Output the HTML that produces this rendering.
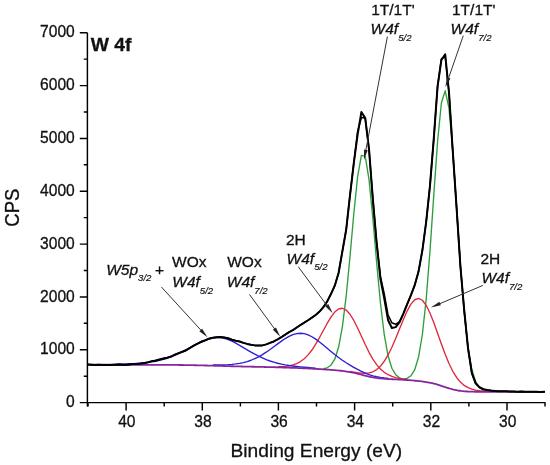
<!DOCTYPE html>
<html><head><meta charset="utf-8"><style>
html,body{margin:0;padding:0;background:#fff;}
svg{display:block;}
text{font-family:"Liberation Sans",Arial,sans-serif;fill:#111;stroke:#111;stroke-width:0.3px;}
</style></head><body>
<svg width="550" height="465" viewBox="0 0 550 465">
<rect width="550" height="465" fill="#fff"/>
<g id="curves">
<path d="M323.33,368.71 L327.14,367.80 L330.95,365.20 L334.76,359.20 L338.57,347.32 L342.37,326.86 L346.18,296.20 L349.99,256.66 L353.80,213.76 L357.61,176.71 L361.41,155.45 L365.22,156.44 L369.03,179.61 L372.84,218.34 L376.65,262.62 L380.45,303.24 L384.26,334.71 L388.07,355.81 L391.88,368.22 L395.69,374.71 L399.49,377.79 L403.30,379.18" stroke="#2f9e3a" stroke-width="1.35" fill="none" stroke-linejoin="round"/>
<path d="M403.30,379.22 L407.11,378.35 L410.92,375.80 L414.73,369.71 L418.53,357.20 L422.34,334.75 L426.15,299.49 L429.96,251.39 L433.77,195.34 L437.57,141.54 L441.38,103.02 L445.19,90.69 L449.00,108.44 L452.81,151.30 L456.61,207.79 L460.42,264.89 L464.23,312.92 L468.04,347.62 L471.85,369.50 L475.65,381.65 L479.46,387.64 L483.27,390.26 L487.08,391.28" stroke="#2f9e3a" stroke-width="1.35" fill="none" stroke-linejoin="round"/>
<path d="M277.64,366.74 L281.45,366.60 L285.25,366.32 L289.06,365.80 L292.87,364.93 L296.68,363.57 L300.49,361.54 L304.29,358.68 L308.10,354.86 L311.91,350.01 L315.72,344.17 L319.53,337.54 L323.33,330.46 L327.14,323.45 L330.95,317.11 L334.76,312.09 L338.57,309.00 L342.37,308.26 L346.18,310.06 L349.99,314.25 L353.80,320.43 L357.61,328.00 L361.41,336.27 L365.22,344.56 L369.03,352.30 L372.84,359.07 L376.65,364.67 L380.45,369.06 L384.26,372.34 L388.07,374.71 L391.88,376.38 L395.69,377.54 L399.49,378.37 L403.30,378.98 L407.11,379.48" stroke="#e0283c" stroke-width="1.35" fill="none" stroke-linejoin="round"/>
<path d="M349.99,371.49 L353.80,372.07 L357.61,372.65 L361.41,373.12 L365.22,373.29 L369.03,372.93 L372.84,371.78 L376.65,369.59 L380.45,366.14 L384.26,361.29 L388.07,354.97 L391.88,347.28 L395.69,338.49 L399.49,329.07 L403.30,319.66 L407.11,311.08 L410.92,304.18 L414.73,299.75 L418.53,298.36 L422.34,300.26 L426.15,305.29 L429.96,312.96 L433.77,322.53 L437.57,333.16 L441.38,344.00 L445.19,354.32 L449.00,363.53 L452.81,371.29 L456.61,377.46 L460.42,382.11 L464.23,385.43 L468.04,387.69 L471.85,389.17 L475.65,390.10 L479.46,390.67 L483.27,391.01 L487.08,391.22" stroke="#e0283c" stroke-width="1.35" fill="none" stroke-linejoin="round"/>
<path d="M117.70,364.04 L121.51,363.97 L125.32,363.88 L129.13,363.76 L132.93,363.61 L136.74,363.42 L140.55,363.16 L144.36,362.84 L148.17,362.42 L151.97,361.88 L155.78,361.22 L159.59,360.40 L163.40,359.42 L167.21,358.24 L171.01,356.87 L174.82,355.31 L178.63,353.56 L182.44,351.65 L186.25,349.61 L190.05,347.50 L193.86,345.38 L197.67,343.32 L201.48,341.43 L205.29,339.79 L209.09,338.51 L212.90,337.67 L216.71,337.35 L220.52,337.57 L224.33,338.33 L228.13,339.57 L231.94,341.21 L235.75,343.16 L239.56,345.31 L243.37,347.57 L247.17,349.85 L250.98,352.08 L254.79,354.21 L258.60,356.19 L262.41,357.98 L266.21,359.59 L270.02,361.00 L273.83,362.21 L277.64,363.25 L281.45,364.13 L285.25,364.87 L289.06,365.50 L292.87,366.03 L296.68,366.48 L300.49,366.88 L304.29,367.22 L308.10,367.54 L311.91,367.84 L315.72,368.13" stroke="#2a1ed8" stroke-width="1.35" fill="none" stroke-linejoin="round"/>
<path d="M212.90,364.99 L216.71,364.99 L220.52,364.94 L224.33,364.84 L228.13,364.65 L231.94,364.37 L235.75,363.94 L239.56,363.36 L243.37,362.57 L247.17,361.54 L250.98,360.25 L254.79,358.67 L258.60,356.80 L262.41,354.63 L266.21,352.19 L270.02,349.54 L273.83,346.74 L277.64,343.90 L281.45,341.12 L285.25,338.56 L289.06,336.36 L292.87,334.66 L296.68,333.60 L300.49,333.26 L304.29,333.70 L308.10,334.88 L311.91,336.74 L315.72,339.14 L319.53,341.95 L323.33,345.03 L327.14,348.23 L330.95,351.43 L334.76,354.53 L338.57,357.47 L342.37,360.22 L346.18,362.77 L349.99,365.13 L353.80,367.35 L357.61,369.43 L361.41,371.36 L365.22,373.09 L369.03,374.59 L372.84,375.81 L376.65,376.74 L380.45,377.43 L384.26,377.92 L388.07,378.27" stroke="#2a1ed8" stroke-width="1.35" fill="none" stroke-linejoin="round"/>
<path d="M88.00,364.71 L89.52,364.71 L91.05,364.72 L92.57,364.72 L94.09,364.72 L95.62,364.72 L97.14,364.72 L98.66,364.72 L100.19,364.72 L101.71,364.72 L103.23,364.72 L104.76,364.72 L106.28,364.73 L107.80,364.73 L109.32,364.73 L110.85,364.73 L112.37,364.73 L113.89,364.73 L115.42,364.73 L116.94,364.73 L118.46,364.74 L119.99,364.74 L121.51,364.74 L123.03,364.74 L124.56,364.74 L126.08,364.74 L127.60,364.74 L129.13,364.75 L130.65,364.75 L132.17,364.75 L133.70,364.75 L135.22,364.75 L136.74,364.76 L138.27,364.76 L139.79,364.76 L141.31,364.76 L142.84,364.77 L144.36,364.77 L145.88,364.77 L147.40,364.78 L148.93,364.78 L150.45,364.79 L151.97,364.79 L153.50,364.80 L155.02,364.80 L156.54,364.81 L158.07,364.81 L159.59,364.82 L161.11,364.83 L162.64,364.84 L164.16,364.85 L165.68,364.86 L167.21,364.87 L168.73,364.88 L170.25,364.89 L171.78,364.90 L173.30,364.92 L174.82,364.93 L176.35,364.95 L177.87,364.96 L179.39,364.98 L180.92,365.00 L182.44,365.02 L183.96,365.04 L185.48,365.06 L187.01,365.09 L188.53,365.11 L190.05,365.14 L191.58,365.17 L193.10,365.20 L194.62,365.23 L196.15,365.26 L197.67,365.30 L199.19,365.33 L200.72,365.37 L202.24,365.41 L203.76,365.44 L205.29,365.48 L206.81,365.52 L208.33,365.57 L209.86,365.61 L211.38,365.65 L212.90,365.70 L214.43,365.74 L215.95,365.78 L217.47,365.83 L219.00,365.87 L220.52,365.92 L222.04,365.96 L223.56,366.01 L225.09,366.05 L226.61,366.10 L228.13,366.14 L229.66,366.18 L231.18,366.23 L232.70,366.27 L234.23,366.31 L235.75,366.35 L237.27,366.39 L238.80,366.42 L240.32,366.46 L241.84,366.50 L243.37,366.53 L244.89,366.57 L246.41,366.60 L247.94,366.64 L249.46,366.67 L250.98,366.70 L252.51,366.73 L254.03,366.77 L255.55,366.80 L257.08,366.83 L258.60,366.86 L260.12,366.90 L261.64,366.93 L263.17,366.96 L264.69,366.99 L266.21,367.03 L267.74,367.06 L269.26,367.10 L270.78,367.14 L272.31,367.17 L273.83,367.21 L275.35,367.25 L276.88,367.29 L278.40,367.34 L279.92,367.38 L281.45,367.43 L282.97,367.48 L284.49,367.52 L286.02,367.57 L287.54,367.63 L289.06,367.68 L290.59,367.73 L292.11,367.79 L293.63,367.85 L295.16,367.91 L296.68,367.97 L298.20,368.03 L299.72,368.10 L301.25,368.16 L302.77,368.23 L304.29,368.30 L305.82,368.37 L307.34,368.44 L308.86,368.51 L310.39,368.59 L311.91,368.67 L313.43,368.74 L314.96,368.83 L316.48,368.91 L318.00,369.00 L319.53,369.09 L321.05,369.18 L322.57,369.28 L324.10,369.37 L325.62,369.48 L327.14,369.58 L328.67,369.69 L330.19,369.80 L331.71,369.92 L333.24,370.04 L334.76,370.17 L336.28,370.30 L337.80,370.44 L339.33,370.59 L340.85,370.76 L342.37,370.93 L343.90,371.12 L345.42,371.32 L346.94,371.54 L348.47,371.79 L349.99,372.05 L351.51,372.34 L353.04,372.65 L354.56,372.98 L356.08,373.34 L357.61,373.71 L359.13,374.09 L360.65,374.49 L362.18,374.89 L363.70,375.29 L365.22,375.68 L366.75,376.07 L368.27,376.43 L369.79,376.78 L371.32,377.10 L372.84,377.40 L374.36,377.67 L375.88,377.91 L377.41,378.12 L378.93,378.30 L380.45,378.46 L381.98,378.60 L383.50,378.72 L385.02,378.83 L386.55,378.92 L388.07,379.01 L389.59,379.08 L391.12,379.16 L392.64,379.23 L394.16,379.30 L395.69,379.37 L397.21,379.45 L398.73,379.52 L400.26,379.61 L401.78,379.70 L403.30,379.79 L404.83,379.89 L406.35,379.99 L407.87,380.10 L409.40,380.22 L410.92,380.34 L412.44,380.47 L413.96,380.60 L415.49,380.74 L417.01,380.89 L418.53,381.05 L420.06,381.22 L421.58,381.40 L423.10,381.60 L424.63,381.81 L426.15,382.04 L427.67,382.30 L429.20,382.58 L430.72,382.89 L432.24,383.23 L433.77,383.59 L435.29,383.99 L436.81,384.41 L438.34,384.86 L439.86,385.33 L441.38,385.82 L442.91,386.32 L444.43,386.83 L445.95,387.33 L447.48,387.82 L449.00,388.30 L450.52,388.75 L452.04,389.18 L453.57,389.57 L455.09,389.92 L456.61,390.24 L458.14,390.52 L459.66,390.76 L461.18,390.97 L462.71,391.14 L464.23,391.28 L465.75,391.40 L467.28,391.49 L468.80,391.57 L470.32,391.62 L471.85,391.67 L473.37,391.70 L474.89,391.73 L476.42,391.74 L477.94,391.76 L479.46,391.77 L480.99,391.78 L482.51,391.78 L484.03,391.79 L485.56,391.79 L487.08,391.79 L488.60,391.79 L490.12,391.79 L491.65,391.80 L493.17,391.80 L494.69,391.80 L496.22,391.80 L497.74,391.80 L499.26,391.80 L500.79,391.80 L502.31,391.80 L503.83,391.80 L505.36,391.80 L506.88,391.81 L508.40,391.81 L509.93,391.81 L511.45,391.81 L512.97,391.81 L514.50,391.81 L516.02,391.81 L517.54,391.81 L519.07,391.81 L520.59,391.81 L522.11,391.81 L523.64,391.81 L525.16,391.81 L526.68,391.81 L528.20,391.81 L529.73,391.82 L531.25,391.82 L532.77,391.82 L534.30,391.82 L535.82,391.82 L537.34,391.82 L538.87,391.82 L540.39,391.82 L541.91,391.82 L543.44,391.82 L544.96,391.82" stroke="#85269c" stroke-width="1.8" fill="none"/>
<path d="M88.00,364.61 L91.05,364.69 L94.85,364.88 L98.66,364.77 L102.47,364.96 L106.28,364.91 L110.09,364.89 L113.89,364.67 L117.70,364.54 L121.51,364.70 L125.32,365.03 L129.13,364.43 L132.93,364.08 L136.74,363.99 L140.55,363.55 L144.36,363.02 L148.17,362.28 L151.97,361.12 L155.78,360.52 L159.59,359.42 L163.40,358.56 L167.21,357.72 L171.01,356.55 L174.82,354.70 L178.63,353.12 L182.44,351.77 L186.25,350.23 L190.05,347.85 L193.86,345.67 L197.67,343.64 L201.48,341.77 L205.29,340.34 L209.09,338.69 L212.90,337.84 L216.71,337.17 L220.52,337.01 L224.33,337.54 L228.13,338.27 L231.94,339.72 L235.75,340.75 L239.56,341.49 L243.37,342.89 L247.17,343.90 L250.98,344.69 L254.79,345.38 L258.60,345.43 L262.41,345.38 L266.21,344.37 L270.02,342.82 L273.83,341.46 L277.64,339.34 L281.45,337.07 L285.25,334.71 L289.06,332.20 L292.87,330.19 L296.68,327.53 L300.49,324.99 L304.29,322.64 L308.10,320.23 L311.91,317.66 L315.72,314.94 L319.53,311.62 L323.33,307.22 L327.14,301.49 L330.95,294.05 L334.76,285.68 L338.57,273.00 L342.37,251.41 L346.18,229.74 L349.99,195.30 L353.80,163.12 L357.61,131.50 L361.41,117.50 L365.22,118.10 L369.03,149.33 L372.84,199.16 L376.65,242.87 L380.45,276.30 L384.26,294.00 L388.07,315.00 L391.88,322.80 L395.69,324.30 L399.49,321.60 L403.30,313.81 L407.11,304.27 L410.92,295.22 L414.73,285.11 L418.53,271.59 L422.34,250.52 L426.15,222.06 L429.96,185.88 L433.77,138.88 L437.57,86.33 L441.38,58.80 L445.19,56.50 L449.00,92.53 L452.81,151.69 L456.61,208.19 L460.42,266.48 L464.23,310.42 L468.04,348.30 L471.85,373.19 L475.65,383.39 L479.46,387.27 L483.27,389.12 L487.08,389.98 L490.89,390.52 L494.69,390.89 L498.50,391.25 L502.31,391.36 L506.12,391.37 L509.93,391.48 L513.73,391.50 L517.54,391.69 L521.35,391.57 L525.16,391.75 L528.97,391.83 L532.77,391.82 L536.58,391.68 L540.39,391.95 L544.20,391.72 L544.96,391.85" stroke="#000" stroke-width="1.5" fill="none" stroke-linejoin="round"/>
<path d="M88.00,364.61 L91.05,364.69 L94.85,364.88 L98.66,364.77 L102.47,364.96 L106.28,364.91 L110.09,364.89 L113.89,364.67 L117.70,364.54 L121.51,364.70 L125.32,365.03 L129.13,364.43 L132.93,364.08 L136.74,363.99 L140.55,363.55 L144.36,363.02 L148.17,362.28 L151.97,361.12 L155.78,360.52 L159.59,359.42 L163.40,358.56 L167.21,357.72 L171.01,356.55 L174.82,354.70 L178.63,353.12 L182.44,351.77 L186.25,350.23 L190.05,347.85 L193.86,345.67 L197.67,343.64 L201.48,341.77 L205.29,340.34 L209.09,338.69 L212.90,337.84 L216.71,337.17 L220.52,337.01 L224.33,337.54 L228.13,338.27 L231.94,339.72 L235.75,340.75 L239.56,341.49 L243.37,342.89 L247.17,343.90 L250.98,344.69 L254.79,345.38 L258.60,345.43 L262.41,345.38 L266.21,344.37 L270.02,342.82 L273.83,341.46 L277.64,339.34 L281.45,337.07 L285.25,334.71 L289.06,332.20 L292.87,330.19 L296.68,327.53 L300.49,324.99 L304.29,322.64 L308.10,320.23 L311.91,317.66 L315.72,314.94 L319.53,311.62 L323.33,307.22 L327.14,301.49 L330.95,294.05 L334.76,285.68 L338.57,273.00 L342.37,251.41 L346.18,229.74 L349.99,195.30 L353.80,163.12 L357.61,134.58 L361.41,112.00 L365.22,118.10 L369.03,149.33 L372.84,199.16 L376.65,242.87 L380.45,279.03 L384.26,298.45 L388.07,320.19 L391.88,328.06 L395.69,327.14 L399.49,322.36 L403.30,313.81 L407.11,304.27 L410.92,295.22 L414.73,285.11 L418.53,271.59 L422.34,250.52 L426.15,222.06 L429.96,185.88 L433.77,138.88 L437.57,86.33 L441.38,60.07 L445.19,54.31 L449.00,92.53 L452.81,151.69 L456.61,208.19 L460.42,266.48 L464.23,310.42 L468.04,348.30 L471.85,373.19 L475.65,383.39 L479.46,387.27 L483.27,389.12 L487.08,389.98 L490.89,390.52 L494.69,390.89 L498.50,391.25 L502.31,391.36 L506.12,391.37 L509.93,391.48 L513.73,391.50 L517.54,391.69 L521.35,391.57 L525.16,391.75 L528.97,391.83 L532.77,391.82 L536.58,391.68 L540.39,391.95 L544.20,391.72 L544.96,391.85" stroke="#000" stroke-width="2.0" fill="none" stroke-linejoin="round"/>
</g>
<g id="axes" stroke="#000" stroke-width="1.45" fill="none">
<path d="M87.4,32.7 V406.4"/>
<path d="M87.4,402.6 H545.5"/>
<!-- y major ticks -->
<path d="M79.8,32.7H87.4 M79.8,85.6H87.4 M79.8,138.4H87.4 M79.8,191.2H87.4 M79.8,244.1H87.4 M79.8,296.9H87.4 M79.8,349.8H87.4 M79.8,402.6H87.4"/>
<!-- y minor ticks -->
<path d="M83.8,59.1H87.4 M83.8,112.0H87.4 M83.8,164.8H87.4 M83.8,217.6H87.4 M83.8,270.5H87.4 M83.8,323.3H87.4 M83.8,376.2H87.4"/>
<!-- x major ticks -->
<path d="M126.1,402.6V410.4 M202.3,402.6V410.4 M278.4,402.6V410.4 M354.6,402.6V410.4 M430.8,402.6V410.4 M507.0,402.6V410.4"/>
<!-- x minor ticks -->
<path d="M88,402.6V406.4 M164.2,402.6V406.4 M240.4,402.6V406.4 M316.5,402.6V406.4 M392.7,402.6V406.4 M468.9,402.6V406.4 M545.0,402.6V406.4"/>
</g>
<text transform="translate(74.80,37.30) scale(1.0000,1)" font-size="15.6" text-anchor="end">7000</text>
<text transform="translate(74.80,90.20) scale(1.0000,1)" font-size="15.6" text-anchor="end">6000</text>
<text transform="translate(74.80,143.00) scale(1.0000,1)" font-size="15.6" text-anchor="end">5000</text>
<text transform="translate(74.80,195.80) scale(1.0000,1)" font-size="15.6" text-anchor="end">4000</text>
<text transform="translate(74.80,248.70) scale(1.0000,1)" font-size="15.6" text-anchor="end">3000</text>
<text transform="translate(74.80,301.50) scale(1.0000,1)" font-size="15.6" text-anchor="end">2000</text>
<text transform="translate(74.80,354.40) scale(1.0000,1)" font-size="15.6" text-anchor="end">1000</text>
<text transform="translate(74.80,407.20) scale(1.0000,1)" font-size="15.6" text-anchor="end">0</text>
<text transform="translate(126.80,426.80) scale(1.0000,1)" font-size="15.6" text-anchor="middle">40</text>
<text transform="translate(203.00,426.80) scale(1.0000,1)" font-size="15.6" text-anchor="middle">38</text>
<text transform="translate(279.10,426.80) scale(1.0000,1)" font-size="15.6" text-anchor="middle">36</text>
<text transform="translate(355.30,426.80) scale(1.0000,1)" font-size="15.6" text-anchor="middle">34</text>
<text transform="translate(431.50,426.80) scale(1.0000,1)" font-size="15.6" text-anchor="middle">32</text>
<text transform="translate(507.70,426.80) scale(1.0000,1)" font-size="15.6" text-anchor="middle">30</text>
<text transform="translate(316.35,456.50) scale(1.0000,1)" font-size="19.2" text-anchor="middle">Binding Energy (eV)</text>
<text transform="translate(18.60,207.70) scale(1.0550,1) rotate(-90)" font-size="18.5" text-anchor="middle">CPS</text>
<text transform="translate(90.80,50.70) scale(1.0420,1)" font-size="18.5" font-weight="bold">W 4f</text>
<text transform="translate(106.20,274.50) scale(1.0000,1)" font-size="15.5" font-style="italic">W5p<tspan font-size="9.6" dy="6.3" stroke-width="0.2">3/2</tspan></text>
<text transform="translate(155.00,274.50) scale(1.0000,1)" font-size="15.5">+</text>
<text transform="translate(172.00,267.30) scale(1.0000,1)" font-size="15.5">WOx</text>
<text transform="translate(172.30,287.20) scale(1.0000,1)" font-size="15.5" font-style="italic">W4f<tspan font-size="9.6" dy="6.3" stroke-width="0.2">5/2</tspan></text>
<text transform="translate(227.20,267.30) scale(1.0000,1)" font-size="15.5">WOx</text>
<text transform="translate(226.80,287.20) scale(1.0000,1)" font-size="15.5" font-style="italic">W4f<tspan font-size="9.6" dy="6.3" stroke-width="0.2">7/2</tspan></text>
<text transform="translate(286.00,244.60) scale(1.0000,1)" font-size="15.5">2H</text>
<text transform="translate(286.60,263.60) scale(1.0000,1)" font-size="15.5" font-style="italic">W4f<tspan font-size="9.6" dy="6.3" stroke-width="0.2">5/2</tspan></text>
<text transform="translate(480.50,264.10) scale(1.0000,1)" font-size="15.5">2H</text>
<text transform="translate(481.40,283.20) scale(1.0000,1)" font-size="15.5" font-style="italic">W4f<tspan font-size="9.6" dy="6.3" stroke-width="0.2">7/2</tspan></text>
<text transform="translate(371.20,14.90) scale(1.0000,1)" font-size="15.5">1T/1T'</text>
<text transform="translate(370.60,34.40) scale(1.0000,1)" font-size="15.5" font-style="italic">W4f<tspan font-size="9.6" dy="6.3" stroke-width="0.2">5/2</tspan></text>
<text transform="translate(452.00,14.90) scale(1.0000,1)" font-size="15.5">1T/1T'</text>
<text transform="translate(450.60,34.40) scale(1.0000,1)" font-size="15.5" font-style="italic">W4f<tspan font-size="9.6" dy="6.3" stroke-width="0.2">7/2</tspan></text>
<g id="arrows" stroke="#333" stroke-width="1" fill="none">
<path d="M161.40,287.00 L201.42,330.67"/><path d="M207.50,337.30 L199.34,331.21 L202.14,328.64 Z" fill="#222" stroke="none"/>
<path d="M249.50,294.50 L274.99,329.43"/><path d="M280.30,336.70 L272.87,329.74 L275.94,327.50 Z" fill="#222" stroke="none"/>
<path d="M298.30,266.80 L327.34,305.97"/><path d="M332.70,313.20 L325.22,306.30 L328.27,304.04 Z" fill="#222" stroke="none"/>
<path d="M482.90,285.40 L439.18,303.98"/><path d="M430.90,307.50 L439.36,301.84 L440.85,305.34 Z" fill="#222" stroke="none"/>
<path d="M387.40,36.60 L365.68,150.96"/><path d="M364.00,159.80 L364.00,149.62 L367.73,150.33 Z" fill="#222" stroke="none"/>
<path d="M463.30,35.60 L448.34,78.80"/><path d="M445.40,87.30 L446.88,77.23 L450.47,78.47 Z" fill="#222" stroke="none"/>
</g>
</svg>
</body></html>
